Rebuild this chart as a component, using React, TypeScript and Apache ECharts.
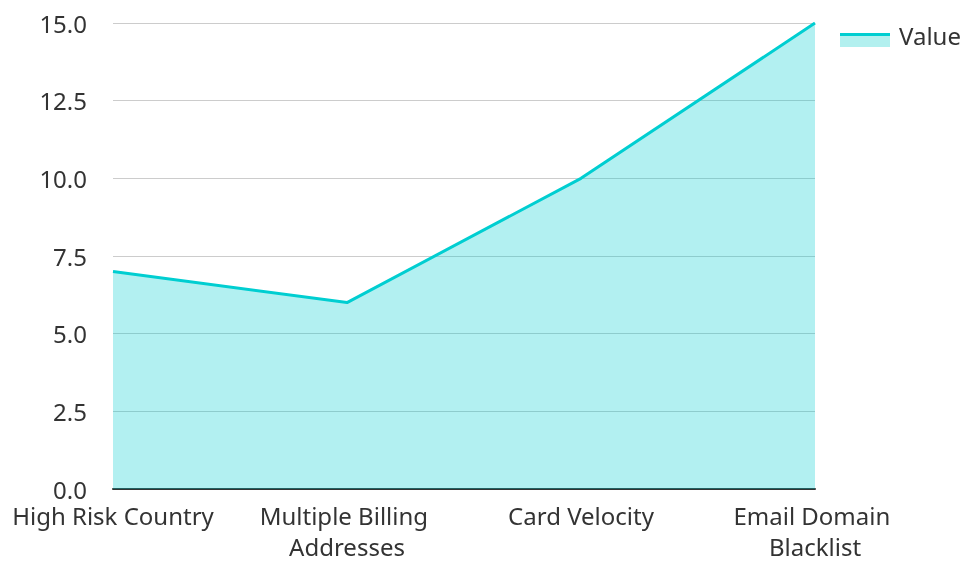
import React, { useEffect, useRef } from "react";
import * as echarts from "echarts";

const categories = ["High Risk Country", "Multiple Billing Addresses", "Card Velocity", "Email Domain Blacklist"];
const values = [7, 6, 10, 15];
const seriesName = "Value";

export default function App() {
  const ref = useRef<HTMLDivElement>(null);
  useEffect(() => {
    if (!ref.current) return;
    const chart = echarts.init(ref.current, undefined, { renderer: "svg" });
    const font = "'Noto Sans', 'Open Sans', sans-serif";
    chart.setOption({
      animation: false,
      textStyle: { fontFamily: font },
      grid: { left: 113, right: 149, top: 23, bottom: 68, containLabel: false },
      legend: {
        data: [seriesName],
        left: 840,
        top: 23,
        padding: 0,
        icon: "rect",
        itemWidth: 54,
        itemHeight: 14,
        itemStyle: { opacity: 0 },
        textStyle: { fontSize: 24, color: "#333", fontFamily: font },
      },
      graphic: [
        {
          type: "rect",
          left: 840,
          top: 36,
          shape: { width: 50, height: 11 },
          style: { fill: "#b2f0ef" },
          z: 100,
        },
        {
          type: "rect",
          left: 840,
          top: 33,
          shape: { width: 50, height: 3 },
          style: { fill: "#00CED1" },
          z: 100,
        },
      ],
      xAxis: {
        type: "category",
        data: categories,
        boundaryGap: false,
        axisLine: { lineStyle: { color: "#333", width: 2 } },
        axisTick: { show: false },
        axisLabel: {
          fontSize: 24,
          color: "#333",
          margin: 11,
          lineHeight: 31,
          width: 215,
          overflow: "break",
          interval: 0,
          fontFamily: font,
        },
      },
      yAxis: {
        type: "value",
        min: 0,
        max: 15,
        interval: 2.5,
        axisLine: { show: false },
        axisTick: { show: false },
        splitLine: { lineStyle: { color: "#ccc", width: 1 } },
        axisLabel: {
          fontSize: 24,
          color: "#333",
          margin: 26,
          fontFamily: font,
          formatter: (v: number) => v.toFixed(1),
        },
      },
      series: [
        {
          name: seriesName,
          type: "line",
          data: values,
          showSymbol: false,
          symbol: "none",
          lineStyle: { color: "#00CED1", width: 3 },
          itemStyle: { color: "#00CED1" },
          areaStyle: { color: "#00CED1", opacity: 0.3 },
        },
      ],
    });
    return () => chart.dispose();
  }, []);
  return <div ref={ref} style={{ position: "fixed", left: 0, top: 0, width: 964, height: 562 }} />;
}
